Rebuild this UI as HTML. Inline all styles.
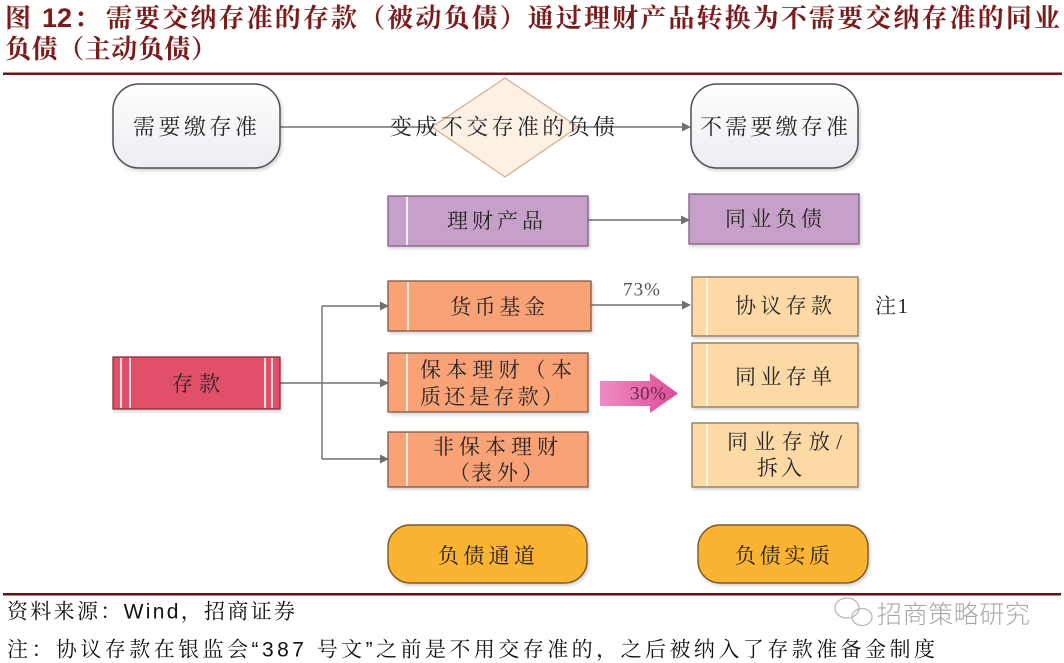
<!DOCTYPE html>
<html><head><meta charset="utf-8"><style>
html,body{margin:0;padding:0;background:#fff;width:1064px;height:663px;overflow:hidden}
svg{display:block}
text{text-spacing-trim:space-all}
.t{font-family:"Liberation Serif","Noto Serif CJK SC",serif;font-size:21px;fill:#262626}
.ti{font-family:"Liberation Serif","Noto Serif CJK SC",serif;font-size:26px;font-weight:700;fill:#7b1c1c}
.ft{font-family:"Liberation Sans","Noto Serif CJK SC",serif;font-size:21px;fill:#111}
</style></head><body>
<svg width="1064" height="663" viewBox="0 0 1064 663" xmlns="http://www.w3.org/2000/svg">
<defs>
<linearGradient id="gw" x1="0" y1="0" x2="0" y2="1"><stop offset="0" stop-color="#ffffff"/><stop offset="1" stop-color="#ececf2"/></linearGradient>
<linearGradient id="gp" x1="0" y1="0" x2="1" y2="0"><stop offset="0" stop-color="#ef8cc4"/><stop offset="1" stop-color="#dc4c98"/></linearGradient>
<filter id="sh" x="-5%" y="-5%" width="115%" height="125%"><feDropShadow dx="1.5" dy="2" stdDeviation="1.5" flood-color="#000" flood-opacity="0.18"/></filter>
</defs>
<rect width="1064" height="663" fill="#fff"/>

<!-- Title -->
<text class="ti" x="5" y="27">图</text>
<text x="42" y="27" style="font-family:'Liberation Sans',sans-serif;font-size:27px;font-weight:700;fill:#7b1c1c">12</text>
<text class="ti" x="74" y="27">：</text>
<text class="ti" x="106" y="27" textLength="954" lengthAdjust="spacing">需要交纳存准的存款（被动负债）通过理财产品转换为不需要交纳存准的同业</text>
<text class="ti" x="5" y="58" textLength="212" lengthAdjust="spacing">负债（主动负债）</text>
<rect x="3" y="72.5" width="1059" height="2.5" fill="#6b1717"/>

<!-- Row 1 -->
<line x1="280" y1="127" x2="683" y2="127" stroke="#707070" stroke-width="1.4"/>
<polygon points="691,127 682,122.5 682,131.5" fill="#707070"/>
<rect x="113" y="84" width="167" height="84" rx="26" fill="url(#gw)" stroke="#505050" stroke-width="1.5" filter="url(#sh)"/>
<text class="t" x="133" y="127" dominant-baseline="central" textLength="124" lengthAdjust="spacing" style="font-size:22px">需要缴存准</text>
<polygon points="505,78 578,127 505,177 432,127" fill="#fdf0e5" stroke="#dcae90" stroke-width="1.3"/>
<text class="t" x="390" y="127" dominant-baseline="central" textLength="225" lengthAdjust="spacing" style="font-size:22px">变成不交存准的负债</text>
<rect x="691" y="84" width="167" height="84" rx="26" fill="url(#gw)" stroke="#505050" stroke-width="1.5" filter="url(#sh)"/>
<text class="t" x="700" y="127" dominant-baseline="central" textLength="148" lengthAdjust="spacing" style="font-size:22px">不需要缴存准</text>

<!-- Row 2 -->
<line x1="588" y1="220" x2="682" y2="220" stroke="#707070" stroke-width="1.4"/>
<polygon points="690,220 681,215.5 681,224.5" fill="#707070"/>
<rect x="388" y="196" width="200" height="50" fill="#c6a0c8" stroke="#7f6080" stroke-width="1.3" filter="url(#sh)"/>
<line x1="407" y1="197" x2="407" y2="245" stroke="#fff" stroke-width="1.6"/>
<text class="t" x="447" y="221" dominant-baseline="central" textLength="96" lengthAdjust="spacing">理财产品</text>
<rect x="689" y="194" width="170" height="50" fill="#c6a0c8" stroke="#7f6080" stroke-width="1.3" filter="url(#sh)"/>
<text class="t" x="725" y="219" dominant-baseline="central" textLength="97" lengthAdjust="spacing">同业负债</text>

<!-- Connectors from 存款 -->
<line x1="280" y1="383" x2="381" y2="383" stroke="#707070" stroke-width="1.4"/>
<polygon points="389,383 380,378.5 380,387.5" fill="#707070"/>
<line x1="322" y1="306" x2="322" y2="459" stroke="#707070" stroke-width="1.4"/>
<line x1="322" y1="306" x2="381" y2="306" stroke="#707070" stroke-width="1.4"/>
<polygon points="389,306 380,301.5 380,310.5" fill="#707070"/>
<line x1="322" y1="459" x2="381" y2="459" stroke="#707070" stroke-width="1.4"/>
<polygon points="389,459 380,454.5 380,463.5" fill="#707070"/>

<!-- 存款 -->
<rect x="113" y="357" width="167" height="52" fill="#e24f68" stroke="#8a3040" stroke-width="1.3" filter="url(#sh)"/>
<line x1="121" y1="358" x2="121" y2="408" stroke="#fff" stroke-width="1.6"/>
<line x1="130" y1="358" x2="130" y2="408" stroke="#fff" stroke-width="1.6"/>
<line x1="265" y1="358" x2="265" y2="408" stroke="#fff" stroke-width="1.6"/>
<line x1="272" y1="358" x2="272" y2="408" stroke="#fff" stroke-width="1.6"/>
<text class="t" x="172" y="384" dominant-baseline="central" textLength="48" lengthAdjust="spacing">存款</text>

<!-- Orange boxes -->
<rect x="388" y="281" width="203" height="50" fill="#f8a276" stroke="#7e5945" stroke-width="1.3" filter="url(#sh)"/>
<line x1="408" y1="282" x2="408" y2="330" stroke="#fff" stroke-width="1.6"/>
<text class="t" x="450" y="307" dominant-baseline="central" textLength="95" lengthAdjust="spacing">货币基金</text>

<rect x="388" y="353" width="200" height="59" fill="#f8a276" stroke="#7e5945" stroke-width="1.3" filter="url(#sh)"/>
<line x1="407" y1="354" x2="407" y2="411" stroke="#fff" stroke-width="1.6"/>
<text class="t" x="420" y="370" dominant-baseline="central" textLength="152" lengthAdjust="spacing">保本理财（本</text>
<text class="t" x="420" y="397" dominant-baseline="central" textLength="143" lengthAdjust="spacing">质还是存款）</text>

<rect x="388" y="432" width="200" height="55" fill="#f8a276" stroke="#7e5945" stroke-width="1.3" filter="url(#sh)"/>
<line x1="407" y1="433" x2="407" y2="486" stroke="#fff" stroke-width="1.6"/>
<text class="t" x="433" y="447" dominant-baseline="central" textLength="125" lengthAdjust="spacing">非保本理财</text>
<text class="t" x="449" y="473" dominant-baseline="central">（</text>
<text class="t" x="471" y="473" dominant-baseline="central">表</text>
<text class="t" x="497" y="473" dominant-baseline="central">外</text>
<text class="t" x="522" y="473" dominant-baseline="central">）</text>

<!-- 73% connector -->
<line x1="591" y1="305" x2="683" y2="305" stroke="#707070" stroke-width="1.4"/>
<polygon points="691,305 682,300.5 682,309.5" fill="#707070"/>
<text class="t" x="623" y="290" dominant-baseline="central" textLength="37" lengthAdjust="spacing" style="font-size:19px;fill:#555">73%</text>

<!-- Pink arrow -->
<polygon points="600,381 650,381 650,373 678,393.5 650,413 650,406 600,406" fill="url(#gp)"/>
<text class="t" x="630" y="394" dominant-baseline="central" textLength="36" lengthAdjust="spacing" style="font-size:19px;fill:#6a2a4a">30%</text>

<!-- Beige boxes -->
<rect x="692" y="277" width="166" height="59" fill="#fcd9a5" stroke="#8c7657" stroke-width="1.3" filter="url(#sh)"/>
<line x1="707" y1="278" x2="707" y2="335" stroke="#fff" stroke-width="1.4"/>
<text class="t" x="735" y="306" dominant-baseline="central" textLength="97" lengthAdjust="spacing">协议存款</text>

<rect x="692" y="343" width="166" height="64" fill="#fcd9a5" stroke="#8c7657" stroke-width="1.3" filter="url(#sh)"/>
<line x1="707" y1="344" x2="707" y2="406" stroke="#fff" stroke-width="1.4"/>
<text class="t" x="735" y="377" dominant-baseline="central" textLength="97" lengthAdjust="spacing">同业存单</text>

<rect x="692" y="423" width="166" height="64" fill="#fcd9a5" stroke="#8c7657" stroke-width="1.3" filter="url(#sh)"/>
<line x1="707" y1="424" x2="707" y2="486" stroke="#fff" stroke-width="1.4"/>
<text class="t" x="727" y="442" dominant-baseline="central" textLength="115" lengthAdjust="spacing">同业存放/</text>
<text class="t" x="757" y="468" dominant-baseline="central" textLength="45" lengthAdjust="spacing">拆入</text>

<text class="t" x="875" y="306" dominant-baseline="central" textLength="33" lengthAdjust="spacing">注1</text>

<!-- Pills -->
<rect x="388" y="525" width="199" height="58" rx="22" fill="#fbb432" stroke="#7a5a2a" stroke-width="1.4" filter="url(#sh)"/>
<text class="t" x="438" y="556" dominant-baseline="central" textLength="97" lengthAdjust="spacing" style="fill:#1f1f1f">负债通道</text>
<rect x="698" y="525" width="170" height="58" rx="22" fill="#fbb432" stroke="#7a5a2a" stroke-width="1.4" filter="url(#sh)"/>
<text class="t" x="735" y="556" dominant-baseline="central" textLength="95" lengthAdjust="spacing" style="fill:#1f1f1f">负债实质</text>

<!-- Bottom rule -->
<rect x="3" y="593" width="1058" height="2.5" fill="#5e1414"/>

<!-- Footer -->
<text class="ft" x="7" y="612" dominant-baseline="central" textLength="288" lengthAdjust="spacing">资料来源：Wind，招商证券</text>
<text class="ft" x="7" y="650" dominant-baseline="central" textLength="928" lengthAdjust="spacing">注：协议存款在银监会“387 号文”之前是不用交存准的，之后被纳入了存款准备金制度</text>

<!-- Watermark -->
<g fill="none" stroke="#b8b8b8" stroke-width="1.3">
<ellipse cx="847" cy="608" rx="12" ry="10"/>
<ellipse cx="862" cy="617" rx="10" ry="8.5"/>
</g>
<text x="877" y="615" dominant-baseline="central" textLength="153" lengthAdjust="spacing" style="font-family:'Liberation Sans','Noto Sans CJK SC',sans-serif;font-size:25px;font-weight:300;fill:#a8a8a8">招商策略研究</text>
</svg>
</body></html>
